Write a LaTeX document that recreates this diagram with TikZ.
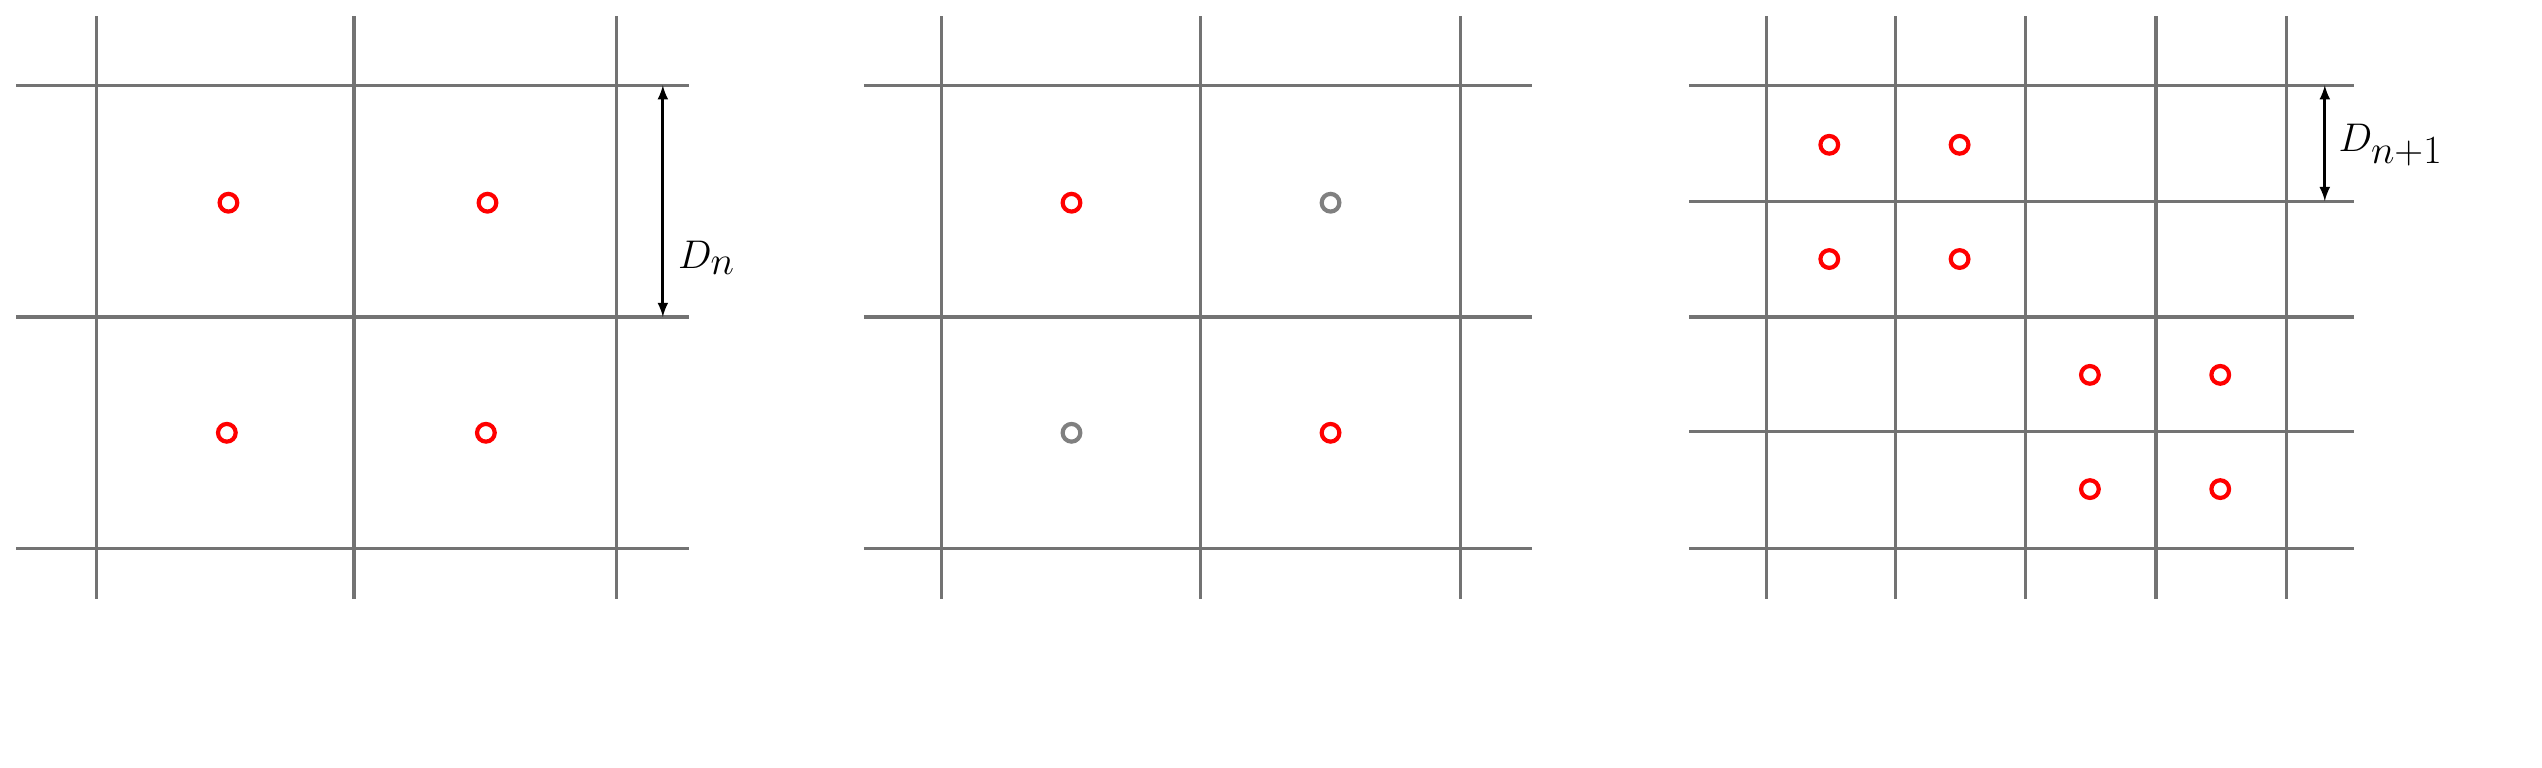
\documentclass[tikz,border=0pt]{standalone}
\usepackage{fontspec}
\setmainfont{Liberation Serif}
\begin{document}
\begin{tikzpicture}[x=1pt,y=-1pt,
  grid/.style={draw=gray!90!black,line width=2pt},
  rc/.style={draw=red,line width=2.6pt,circle,minimum size=11pt,inner sep=0pt},
  gc/.style={draw=gray,line width=2.6pt,circle,minimum size=11pt,inner sep=0pt},
  dim/.style={line width=2pt,<->,>=latex},
  lab/.style={font=\fontsize{40}{44}\selectfont}]
\useasboundingbox (0,0) rectangle (1580,477);
% panel a
\foreach \x in {60,220,383} \draw[grid] (\x,10) -- (\x,372);
\foreach \y in {53,197,341} \draw[grid] (10,\y) -- (428,\y);
\node[rc] (a1) at (142,126) {};
\node[rc] (a2) at (303,126) {};
\node[rc] (a3) at (141,269) {};
\node[rc] (a4) at (302,269) {};
\coordinate (at) at (412,53); \coordinate (ab) at (412,197);
\draw[dim] (at) -- (ab);
\node[lab,anchor=west] (dn) at (418,160) {$D_n$};
\node[lab] (la) at (235,688) {(\textbf{a})};
% panel b
\foreach \x in {585,746,908} \draw[grid] (\x,10) -- (\x,372);
\foreach \y in {53,197,341} \draw[grid] (537,\y) -- (952,\y);
\node[rc] (b1) at (666,126) {};
\node[gc] (b2) at (827,126) {};
\node[gc] (b3) at (666,269) {};
\node[rc] (b4) at (827,269) {};
\node[lab] (lb) at (745,688) {(\textbf{b})};
% panel c
\foreach \x in {1098,1178,1259,1340,1421} \draw[grid] (\x,10) -- (\x,372);
\foreach \y in {53,125,197,268,341} \draw[grid] (1050,\y) -- (1463,\y);
\foreach \x/\y [count=\i] in {1137/90,1218/90,1137/161,1218/161,1299/233,1380/233,1299/304,1380/304}
  \node[rc] (c\i) at (\x,\y) {};
\coordinate (ct) at (1445,53); \coordinate (cb) at (1445,125);
\draw[dim] (ct) -- (cb);
\node[lab,anchor=west] (dn1) at (1450,90) {$D_{n+1}$};
\node[lab] (lc) at (1270,688) {(\textbf{c})};
\end{tikzpicture}
\end{document}
